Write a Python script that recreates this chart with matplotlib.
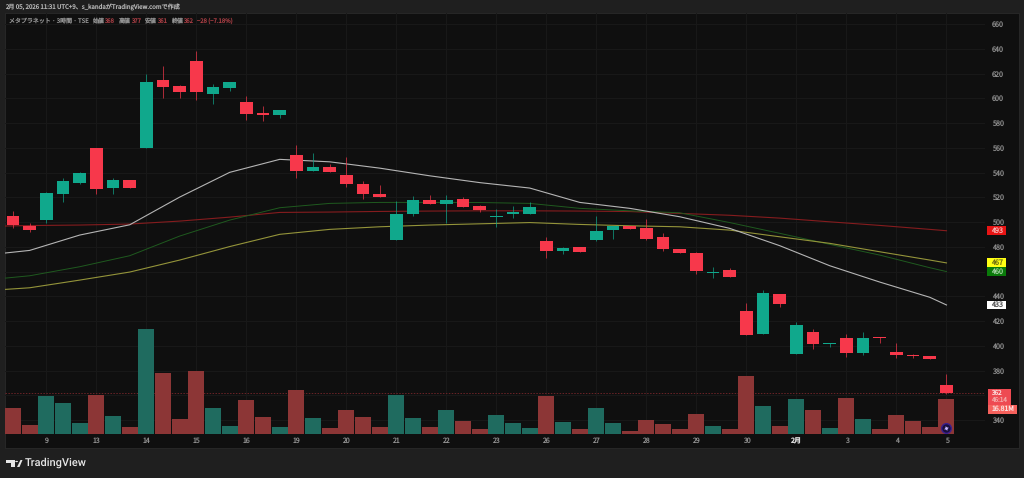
import matplotlib
matplotlib.use("Agg")
import matplotlib.pyplot as plt
from matplotlib.patches import Rectangle, Polygon

plt.rcParams['font.family'] = ['Noto Sans CJK JP', 'DejaVu Sans']
plt.rcParams['text.hinting'] = 'no_hinting'
plt.rcParams['text.hinting_factor'] = 1

opens = [504.6,496.8,501.4,522.6,531.5,560,527.5,533.7,559.8,615,609.9,630,603.4,608.5,596.7,588,586.5,554.1,541.5,544.7,
         537.7,530.7,522.6,485.5,506.5,518,514.5,518.6,512.7,503.8,506.5,506.5,484.6,476.3,480,485.5,493.5,496.8,494.9,487.6,
         478,474.7,459,461,427.8,409.2,442,393.3,410.9,401.4,406,394.4,407,394.7,392.8,392,368]
highs = [508.9,499,524,535.6,540.5,560,535.6,533.7,620,625.9,610.8,638,611.4,613,601.6,594.1,590.7,562,556,546.9,
         552.8,532.9,530,517,520.9,521.7,521.7,520.5,513.5,510.8,512.7,516.2,487.9,480,480,505,496.8,496.8,502.7,490.8,
         478,476,464,462.6,434.8,445.5,442,418.9,413.3,402.2,409.3,411,407.5,402,393.5,392,377]
lows = [495,491.7,499.2,516.5,531,522.6,522.9,527.5,559.8,600.2,600.6,598.4,595.1,605.6,582.3,582,584,535.6,541.5,540.7,
        528,519,520,485.5,504.8,514.5,498.9,512.4,508.5,496.2,503.6,506.5,470.9,473.8,475.8,484.8,486.6,494.6,485.4,476.3,
        474.7,458,454.6,455.3,408.4,409.2,431,393.3,397.8,399,391,392.9,402,389.8,390.5,389.5,361]
closes = [497.3,493.5,523.7,532.9,539.9,526.7,533.7,527.5,613,609.4,604.8,604.8,609,613,587.5,586.5,590.7,541.5,544.7,540.7,
          530.7,522.6,520.5,506.5,518,514.5,518,512.4,509.7,504.2,507.8,511.9,476.6,478.7,475.8,492.7,496.8,494.6,486.5,477.9,
          474.7,460.6,459.8,455.3,408.4,442.6,433.7,416.8,401.7,402.2,394.4,406,406,392.3,391.5,389.5,362]
volumes = [12.5,4.3,18.1,14.9,5.3,18.7,8.8,3.4,50.4,29.3,7.1,30.1,12.3,3.8,16.3,8.2,3.4,21.1,7.7,3.0,
           11.5,8.2,3.4,18.6,7.5,3.2,11.5,6.2,2.5,9.1,5.3,2.7,18.2,5.6,2.3,12.3,5.3,1.6,6.6,4.7,
           2.3,9.5,3.7,2.4,27.8,13.4,3.7,16.7,11.7,3.0,17.1,7.2,2.3,9.1,6.1,3.2,16.81]

ma_index = [-2,1,4,7,10,13,16,19,22,25,28,31,34,37,40,43,46,49,52,55,56]
ma_white = [472.8,477.1,489.5,497.8,520.2,540.2,550.7,548.7,543.6,537.4,531.9,527.5,515.9,511.1,504.3,494.9,480.9,464.7,451.5,439.2,433]
ma_red = [496.4,497.2,497.6,498.4,500.8,504,507.8,508.1,508.6,508.9,509.1,509.1,508.9,508.5,507,505.5,503.2,500.2,497.3,494.1,493]
ma_green = [452.7,456.6,463.9,472.8,488.7,501.6,511.6,515.1,515.9,515.9,515.8,515.1,511.1,509.1,507.5,499.6,490.9,482,473.3,463.1,460]
ma_yellow = [444.2,446.9,453.1,459.6,469.3,480.2,490.1,494.1,496.2,497.6,498.6,499.6,498.1,497,496.2,493.5,488.1,482.8,476,469.3,467]

day_ticks = [2,5,8,11,14,17,20,23,26,29,32,35,38,41,44,47,50,53,56]
day_labels = ['9','13','14','15','16','19','20','21','22','23','26','27','28','29','30','2月','3','4','5']
price_ticks = [340,360,380,400,420,440,460,480,500,520,540,560,580,600,620,640,660]
price_labels = ['340','','380','400','420','440','','480','500','520','540','560','580','600','620','640','660']

W, H = 1024, 478
BG, PANEL, GRID = '#1f1f1f', '#0f0f0f', '#191919'
UP, DOWN = '#10a88c', '#f7384b'
VUP, VDOWN = '#1f6b5f', '#8c3636'
TICK = '#8f8f8f'

fig = plt.figure(figsize=(W/100, H/100), dpi=100, facecolor=BG)
def fx(x): return x / W
def fy(y): return 1 - y / H

fig.patches.append(Rectangle((fx(5), fy(448)), fx(1014), 435/H, transform=fig.transFigure,
                             facecolor=PANEL, edgecolor='#2a2a2a', linewidth=0.6, zorder=-5))

ax = fig.add_axes([fx(5), fy(434), fx(980), 421/H])
ax.patch.set_visible(False)
ax.set_xlim(-0.48, 58.31)
ax.set_ylim(328.7, 669)
for s in ax.spines.values():
    s.set_visible(False)
ax.set_xticks(day_ticks)
ax.set_xticklabels(day_labels)
ax.set_yticks(price_ticks)
ax.set_yticklabels(price_labels)
ax.tick_params(axis='x', length=0, pad=2.5, labelsize=5, labelcolor=TICK)
ax.grid(True, color=GRID, linewidth=0.7)
ax.set_axisbelow(True)
for t in ax.get_xticklabels():
    if t.get_text() == '2月':
        t.set_color('#d8d8d8')
        t.set_fontweight('bold')

# moving averages
ax.plot(ma_index, ma_red, color='#851c1e', lw=0.8, zorder=2)
ax.plot(ma_index, ma_green, color='#1f5a1f', lw=0.7, zorder=2)
ax.plot(ma_index, ma_yellow, color='#94943a', lw=0.8, zorder=2)
ax.plot(ma_index, ma_white, color='#b5b5b5', lw=0.8, zorder=2)

# candles
xs = list(range(len(opens)))
cols = [UP if c > o else DOWN for o, c in zip(opens, closes)]
ax.vlines(xs, lows, highs, colors=cols, linewidth=0.6, alpha=0.8, zorder=3)
ax.bar(xs, [max(abs(c - o), 0.8) for o, c in zip(opens, closes)],
       bottom=[min(o, c) for o, c in zip(opens, closes)], width=0.76, color=cols, linewidth=0, zorder=4)

# last price line
ax.axhline(closes[-1], color='#6a2327', lw=0.7, ls=(0, (1.5, 1.5)), zorder=1)

# volume
vol = ax.twinx()
vol.patch.set_visible(False)
vol.set_ylim(0, 202.1)
vol.set_yticks([])
for s in vol.spines.values():
    s.set_visible(False)
vcols = [VUP if c > o else VDOWN for o, c in zip(opens, closes)]
vol.bar(xs, volumes, width=0.96, color=vcols, linewidth=0)
vol.plot([xs[-1]], [2.9], marker='o', ms=7, mfc='#1a0f3d', mec='#3a1f8f', mew=1)
vol.plot([xs[-1]], [2.9], marker=(4, 1, 20), ms=3.5, mfc='#c8b8ff', mec='none')

# price scale goes on the right, after twinx
ax.yaxis.tick_right()
ax.tick_params(axis='y', length=0, pad=5, labelsize=5.2, labelcolor=TICK, left=False, right=False)

# price tags
yt = ax.get_yaxis_transform()
def tag(price, bg, fg):
    ax.add_patch(Rectangle((1.0025, price - 3.6), 0.0194, 7.2, transform=yt, facecolor=bg,
                           edgecolor='none', clip_on=False, zorder=10))
    ax.text(1.0122, price, str(price), transform=yt, ha='center', va='center',
            fontsize=5.2, color=fg, zorder=11)
tag(ma_red[-1], '#e81414', '#f5b8b8')
tag(ma_yellow[-1], '#ffff14', '#6b6b10')
tag(ma_green[-1], '#0a7a0a', '#a8d4a8')
tag(ma_white[-1], '#ffffff', '#505050')

ax.add_patch(Rectangle((1.0035, 352.1), 0.0235, 13.1, transform=yt, facecolor='#ee4a52',
                       edgecolor='none', clip_on=False, zorder=10))
ax.add_patch(Rectangle((1.0035, 345.2), 0.0296, 6.9, transform=yt, facecolor='#f5615c',
                       edgecolor='none', clip_on=False, zorder=10))
ax.text(1.0065, 362.2, '362', transform=yt, va='center', ha='left', fontsize=4.6, color='#fbdada', zorder=11)
ax.text(1.0065, 356.2, '46:14', transform=yt, va='center', ha='left', fontsize=4.6, color='#f3a6a6', zorder=11)
ax.text(1.0065, 348.7, '16.81M', transform=yt, va='center', ha='left', fontsize=5.0, color='#fbe0e0', zorder=11)

# header texts
fig.text(fx(5), fy(7), '2月 05, 2026 11:31 UTC+9、s_kandaがTradingView.comで作成',
         fontsize=4.4, color='#b4b4b4', va='center', ha='left')
LY = fy(21)
GREY, RED = '#969696', '#a83e44'
for x, s, c in [(9, 'メタプラネット · 3時間 · TSE', GREY), (92, '始値', GREY), (104, '368', RED),
                (119, '高値', GREY), (131, '377', RED), (145, '安値', GREY), (157, '361', RED),
                (171, '終値', GREY), (183, '362', RED), (197, '−28 (−7.18%)', RED)]:
    fig.text(fx(x), LY, s, fontsize=4.3, color=c, va='center', ha='left')

# TradingView logo
LOGO = '#e6e6e6'
for pts in ([(6, 460), (15, 460), (15, 467), (11, 467), (11, 463), (6, 463)],
            [(17, 467), (20.5, 460), (22.5, 460), (19.5, 467)]):
    fig.patches.append(Polygon([(fx(a), fy(b)) for a, b in pts], closed=True, transform=fig.transFigure,
                               facecolor=LOGO, edgecolor='none'))
fig.patches.append(plt.Circle((fx(16.6), fy(461.5)), 1.4/W, transform=fig.transFigure, facecolor=LOGO, edgecolor='none'))
fig.text(fx(25), fy(463), 'TradingView', fontsize=8, color=LOGO, va='center', ha='left',
         family=['Roboto', 'DejaVu Sans'], fontweight='medium')

fig.savefig('out.png', dpi=100, facecolor=BG)
